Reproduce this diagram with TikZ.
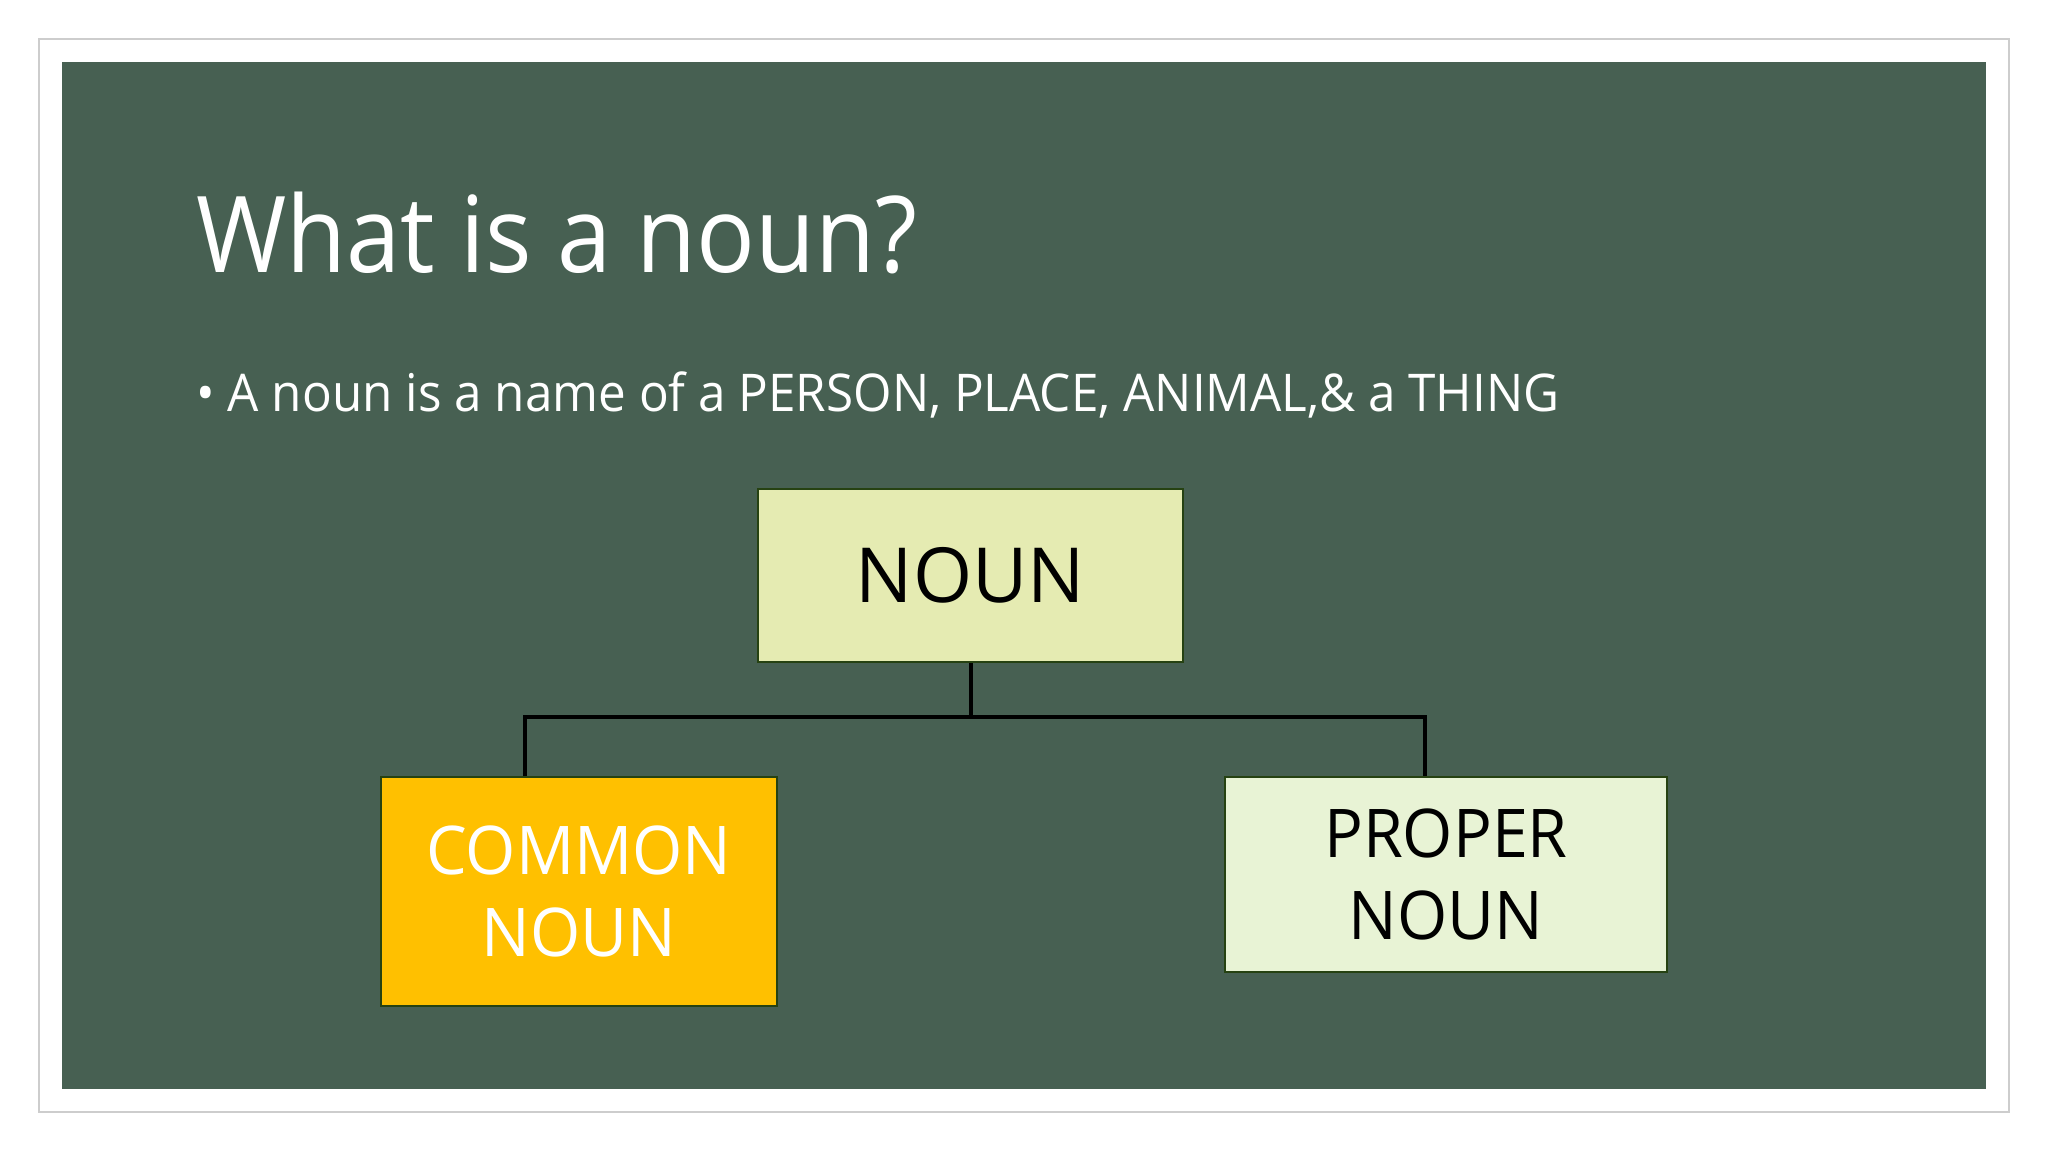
\documentclass[tikz,border=0pt]{standalone}
\usepackage{fontspec}
\setmainfont{Open Sans}
\newfontfamily\titlefont[FakeStretch=0.92]{Open Sans}
\newfontfamily\bulletfont[FakeStretch=0.95]{Open Sans}
\newfontfamily\boxfont[FakeStretch=0.96]{Open Sans}
\definecolor{slidebg}{RGB}{71,96,82}
\definecolor{framegray}{RGB}{205,205,205}
\definecolor{nounfill}{RGB}{229,235,178}
\definecolor{commonfill}{RGB}{255,192,0}
\definecolor{properfill}{RGB}{232,243,213}
\definecolor{boxline}{RGB}{38,66,18}
\tikzset{
  box/.style={draw=boxline, line width=1pt, rectangle, inner sep=0pt, align=center},
  conn/.style={draw=black, line width=2pt},
}
\begin{document}
\begin{tikzpicture}[x=0.5pt,y=-0.5pt]
\useasboundingbox (0,0) rectangle (2048,1152);
\fill[white] (0,0) rectangle (2048,1152);
\draw[framegray, line width=1pt] (39,39) rectangle (2009,1112);
\fill[slidebg] (62,62) rectangle (1986,1089);
\node[anchor=base west, text=white, inner sep=0pt, font=\titlefont\fontsize{53}{60}\selectfont] (title) at (196,272) {What is a noun?};
\node[anchor=base west, text=white, inner sep=0pt, font=\bulletfont\fontsize{26}{30}\selectfont] (bullet) at (196,411) {\textbullet\ A noun is a name of a PERSON, PLACE, ANIMAL,\& a THING};
\node[box, fill=nounfill, minimum width=212.5pt, minimum height=86.5pt, font=\fontsize{38}{44}\selectfont] (noun) at (970.5,575.5) {NOUN};
\node[box, fill=commonfill, text=white, minimum width=198pt, minimum height=114.5pt, font=\boxfont\fontsize{33.6}{41}\selectfont] (common) at (579,891.5) {COMMON\\NOUN};
\node[box, fill=properfill, minimum width=221pt, minimum height=97.5pt, font=\boxfont\fontsize{33.6}{41}\selectfont] (proper) at (1446,874.5) {PROPER\\NOUN};
\coordinate (busL) at (525,717);
\coordinate (busR) at (1425,717);
\draw[conn] (noun.south) -- (noun.south |- busL);
\draw[conn] (busL |- common.north) -- (busL) -- (busR) -- (busR |- proper.north);
\end{tikzpicture}
\end{document}
